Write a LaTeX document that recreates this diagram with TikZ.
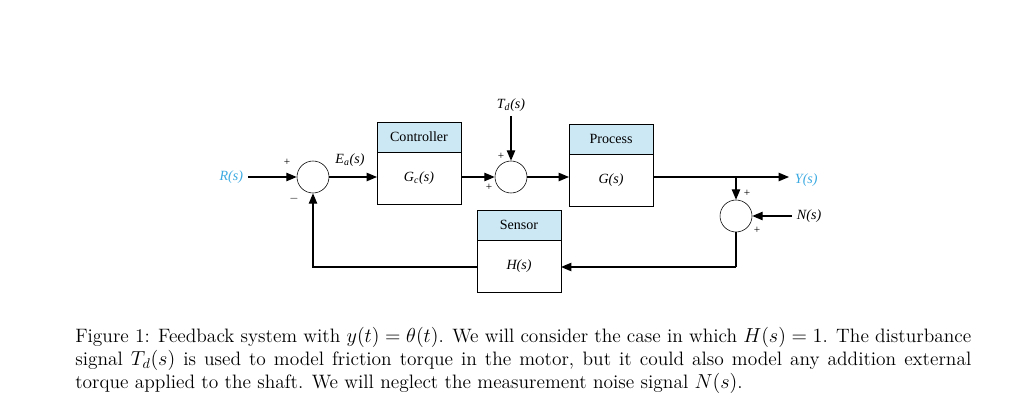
\documentclass[tikz,border=0pt]{standalone}
\usepackage{fontspec}
\newfontfamily\tms{Liberation Serif}
\usetikzlibrary{arrows.meta}
\definecolor{headblue}{RGB}{205,232,245}
\definecolor{sigblue}{RGB}{60,170,225}
\tikzset{
  sig/.style={line width=0.9pt,-{Triangle[length=2.6mm,width=2.1mm]}},
  wire/.style={line width=0.9pt},
  summ/.style={circle,draw,minimum size=8mm,inner sep=0pt},
  lbl/.style={font=\tms\fontsize{10}{12}\selectfont},
  sgn/.style={font=\tms\fontsize{8}{9}\selectfont}
}
\begin{document}
\begin{tikzpicture}[x=0.25mm,y=-0.25mm]
 \useasboundingbox (0,0) rectangle (1024,413);
 % blocks: header and body
 \foreach \xa/\ya/\head/\body in {377/122/Controller/{G\textsubscript{c}(s)}, 569/124/Process/{G(s)}, 477/210/Sensor/{H(s)}} {
   \fill[headblue] (\xa,\ya) rectangle ++(84,30);
   \draw (\xa,\ya) rectangle ++(84,82);
   \draw (\xa,\ya+30) -- ++(84,0);
   \node[lbl] at (\xa+42,\ya+15) {\head};
   \node[lbl] at (\xa+42,\ya+56) {\itshape\body};
 }
 % block ports
 \coordinate (ctrlin) at (377,177);
 \coordinate (ctrlout) at (461,177);
 \coordinate (procin) at (569,177);
 \coordinate (procout) at (653,177);
 \coordinate (sensR) at (561,267);
 \coordinate (sensL) at (477,267);
 % summing junctions
 \node[summ] (s1) at (313,177) {};
 \node[summ] (s2) at (511,177) {};
 \node[summ] (s3) at (736,216) {};
 % signals
 \node[lbl,text=sigblue,anchor=east] (R) at (248,177) {\itshape R(s)};
 \node[lbl,text=sigblue,anchor=west] (Y) at (790,180) {\itshape Y(s)};
 \node[lbl,anchor=south] (Td) at (511,116) {\itshape T\textsubscript{d}(s)};
 \node[lbl,anchor=west] (N) at (792,216) {\itshape N(s)};
 \node[lbl] (Ea) at (350,160) {\itshape E\textsubscript{a}(s)};
 \coordinate (br) at (736,177);
 \coordinate (yend) at (789,177);
 \coordinate (c1) at (736,267);
 \coordinate (c2) at (313,267);
 % connectors
 \draw[sig] (R) -- (s1);
 \draw[sig] (s1) -- (ctrlin);
 \draw[sig] (ctrlout) -- (s2);
 \draw[sig] (Td) -- (s2);
 \draw[sig] (s2) -- (procin);
 \draw[sig] (procout) -- (yend);
 \draw[sig] (br) -- (s3);
 \draw[sig] (N) -- (s3);
 \draw[wire] (s3) -- (c1);
 \draw[sig] (c1) -- (sensR);
 \draw[sig] (sensL) -- (c2) -- (s1);
 % signs
 \node[sgn] at (287,162) {+};
 \node[sgn] at (294,199) {$-$};
 \node[sgn] at (501,156) {+};
 \node[sgn] at (489,187) {+};
 \node[sgn] at (747,193) {+};
 \node[sgn] at (757,230) {+};
 % caption
 \node[anchor=north west,text width=224mm,align=justify,inner sep=0pt,font=\fontsize{13.8}{16.3}\selectfont] (cap) at (75,327)
   {Figure 1: Feedback system with $y(t)=\theta(t)$. We will consider the case in which $H(s)=1$. The disturbance signal $T_d(s)$ is used to model friction torque in the motor, but it could also model any addition external torque applied to the shaft. We will neglect the measurement noise signal $N(s)$.};
\end{tikzpicture}
\end{document}
